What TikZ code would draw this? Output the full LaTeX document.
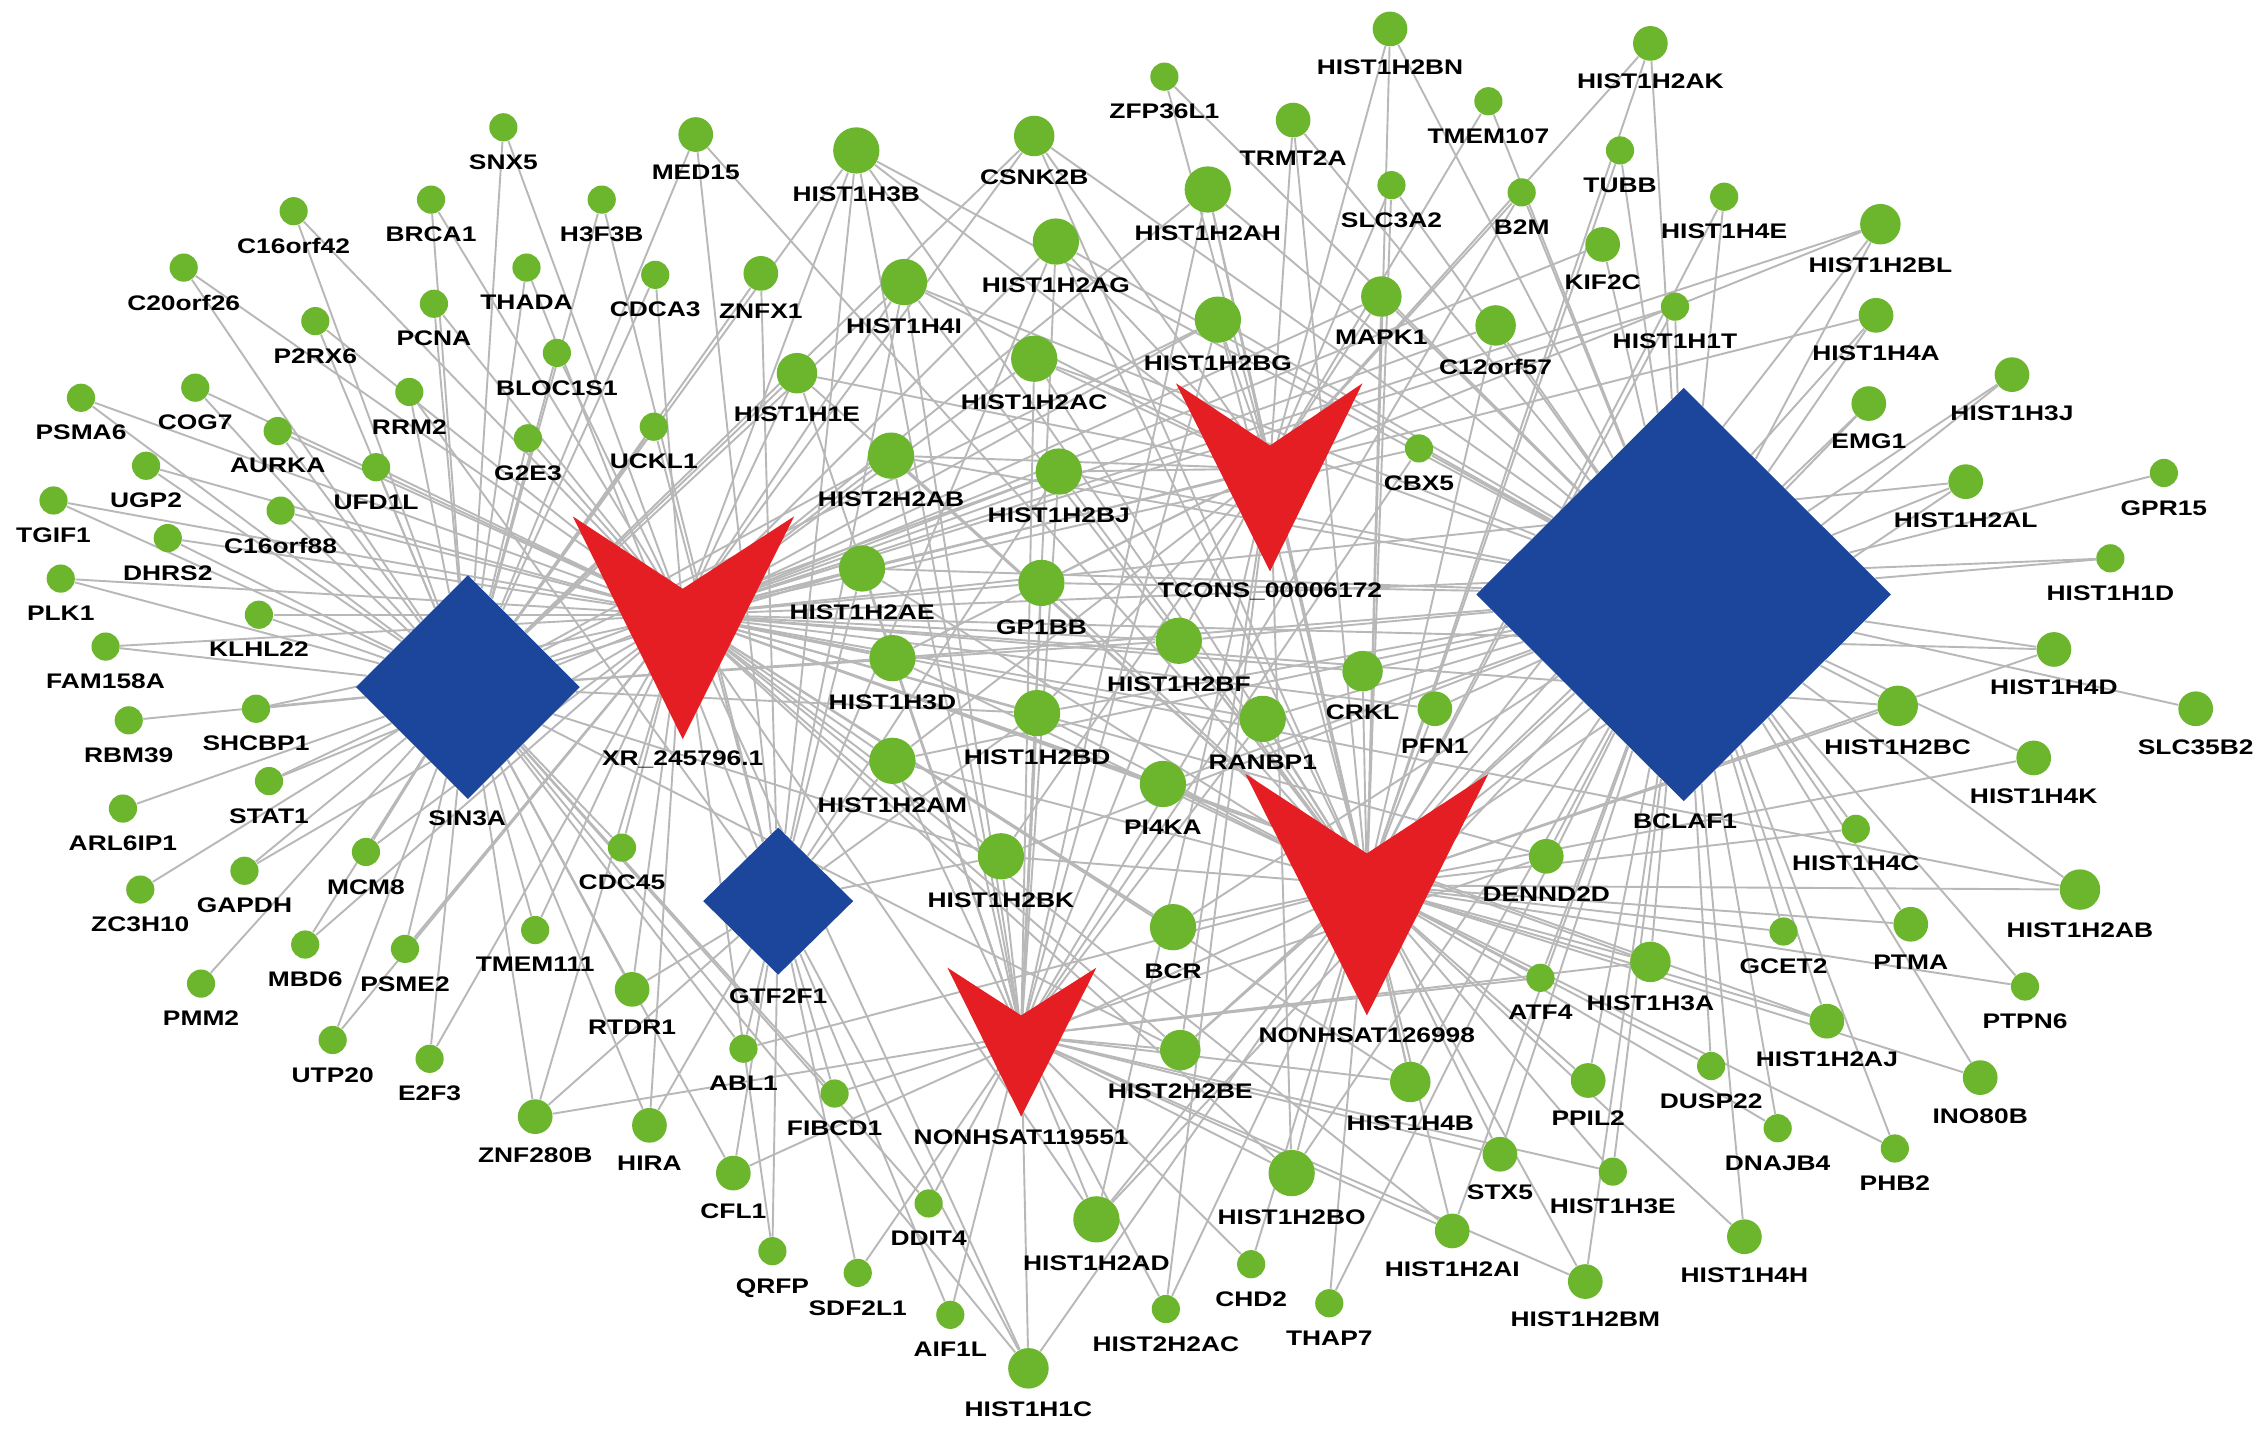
\documentclass[tikz,border=0pt]{standalone}
\usepackage{fontspec}
\newfontfamily\labfont{Liberation Sans}[FakeStretch=1.25]
\usetikzlibrary{shapes.geometric}
\pgfdeclarelayer{bg}
\pgfdeclarelayer{edges}
\pgfsetlayers{bg,edges,main}
\definecolor{ngreen}{RGB}{108,182,46}
\definecolor{hblue}{RGB}{28,70,155}
\definecolor{vred}{RGB}{228,30,34}
\definecolor{egray}{RGB}{184,184,184}
\newcommand\gnode[4]{%
  \node[gn,#4] (#1) at (#2,#3) {};
  \node[lab,anchor=north] (l#1) at ([yshift=-0.17cm]#1.south) {#1};}
\begin{document}
\begin{tikzpicture}[x=0.02cm,y=-0.02cm,
  gn/.style={circle,fill=ngreen,inner sep=0pt,minimum size=0.39cm},
  szs/.style={minimum size=0.39cm},
  szm/.style={minimum size=0.48cm},
  szl/.style={minimum size=0.56cm},
  szx/.style={minimum size=0.64cm},
  lab/.style={inner sep=0pt,text=black,font=\labfont\bfseries\fontsize{8.3}{9}\selectfont},
  edge/.style={draw=egray,line width=0.75pt},
  vhub/.style={fill=vred},
  dhub/.style={diamond,fill=hblue,inner sep=0pt,aspect=1}]
\useasboundingbox (0,0) rectangle (1568,991);
\begin{pgfonlayer}{bg}
\fill[white] (0,0) rectangle (1568,991);
\end{pgfonlayer}

% ---- hubs ----
\node[dhub,minimum width=3.1cm,minimum height=3.1cm] (S) at (323.5,475) {};
\node[dhub,minimum width=2.08cm,minimum height=2.04cm] (G) at (538,623) {};
\node[dhub,minimum width=5.74cm,minimum height=5.72cm] (B) at (1164,411) {};
\fill[vhub] (396,357) -- (472,407) -- (549,357) -- (472,511) -- cycle;
\fill[vhub] (813,265) -- (878,308) -- (942,265) -- (878,395) -- cycle;
\fill[vhub] (861,535) -- (945,590) -- (1029,535) -- (945,702) -- cycle;
\fill[vhub] (655,669) -- (706,702) -- (758,669) -- (706,772) -- cycle;
\coordinate (X) at (472,425);
\coordinate (T) at (878,324);
\coordinate (N6) at (945,612);
\coordinate (N5) at (706,716);
\node[lab] (lS) at (323,566) {SIN3A};
\node[lab] (lX) at (472,525) {XR\_245796.1};
\node[lab] (lT) at (878,409) {TCONS\_00006172};
\node[lab] (lB) at (1165,568) {BCLAF1};
\node[lab] (lG) at (538,689) {GTF2F1};
\node[lab] (lN6) at (945,716) {NONHSAT126998};
\node[lab] (lN5) at (706,786) {NONHSAT119551};

% ---- green nodes ----
\gnode{SNX5}{348}{88}{szs}
\gnode{MED15}{481}{93}{szm}
\gnode{HIST1H3B}{592}{104}{szx}
\gnode{CSNK2B}{715}{94}{szl}
\gnode{ZFP36L1}{805}{53}{szs}
\gnode{TRMT2A}{894}{83}{szm}
\gnode{HIST1H2BN}{961}{20}{szm}
\gnode{TMEM107}{1029}{70}{szs}
\gnode{HIST1H2AK}{1141}{30}{szm}
\gnode{C16orf42}{203}{146}{szs}
\gnode{BRCA1}{298}{138}{szs}
\gnode{H3F3B}{416}{138}{szs}
\gnode{HIST1H2AH}{835}{131}{szx}
\gnode{SLC3A2}{962}{128}{szs}
\gnode{B2M}{1052}{133}{szs}
\gnode{TUBB}{1120}{104}{szs}
\gnode{HIST1H4E}{1192}{136}{szs}
\gnode{HIST1H2BL}{1300}{155}{szl}
\gnode{C20orf26}{127}{185}{szs}
\gnode{THADA}{364}{185}{szs}
\gnode{CDCA3}{453}{190}{szs}
\gnode{ZNFX1}{526}{189}{szm}
\gnode{HIST1H2AG}{730}{167}{szx}
\gnode{KIF2C}{1108}{169}{szm}
\gnode{HIST1H4I}{625}{195}{szx}
\gnode{P2RX6}{218}{222}{szs}
\gnode{PCNA}{300}{210}{szs}
\gnode{BLOC1S1}{385}{244}{szs}
\gnode{HIST1H2BG}{842}{221}{szx}
\gnode{MAPK1}{955}{205}{szl}
\gnode{C12orf57}{1034}{225}{szl}
\gnode{HIST1H1T}{1158}{212}{szs}
\gnode{HIST1H4A}{1297}{218}{szm}
\gnode{HIST1H1E}{551}{258}{szl}
\gnode{HIST1H2AC}{715}{248}{szx}
\gnode{PSMA6}{56}{275}{szs}
\gnode{COG7}{135}{268}{szs}
\gnode{RRM2}{283}{271}{szs}
\gnode{HIST1H3J}{1391}{259}{szm}
\gnode{EMG1}{1292}{279}{szm}
\gnode{AURKA}{192}{298}{szs}
\gnode{G2E3}{365}{303}{szs}
\gnode{UCKL1}{452}{295}{szs}
\gnode{UFD1L}{260}{323}{szs}
\gnode{UGP2}{101}{322}{szs}
\gnode{HIST2H2AB}{616}{315}{szx}
\gnode{HIST1H2BJ}{732}{326}{szx}
\gnode{CBX5}{981}{310}{szs}
\gnode{GPR15}{1496}{327}{szs}
\gnode{HIST1H2AL}{1359}{333}{szm}
\gnode{TGIF1}{37}{346}{szs}
\gnode{C16orf88}{194}{353}{szs}
\gnode{DHRS2}{116}{372}{szs}
\gnode{HIST1H2AE}{596}{393}{szx}
\gnode{GP1BB}{720}{403}{szx}
\gnode{HIST1H1D}{1459}{386}{szs}
\gnode{PLK1}{42}{400}{szs}
\gnode{KLHL22}{179}{425}{szs}
\gnode{HIST1H2BF}{815}{443}{szx}
\gnode{HIST1H4D}{1420}{449}{szm}
\gnode{FAM158A}{73}{447}{szs}
\gnode{HIST1H3D}{617}{455}{szx}
\gnode{CRKL}{942}{464}{szl}
\gnode{PFN1}{992}{490}{szm}
\gnode{SLC35B2}{1518}{490}{szm}
\gnode{RBM39}{89}{498}{szs}
\gnode{SHCBP1}{177}{490}{szs}
\gnode{HIST1H2BD}{717}{493}{szx}
\gnode{RANBP1}{873}{497}{szx}
\gnode{HIST1H2BC}{1312}{488}{szl}
\gnode{HIST1H2AM}{617}{526}{szx}
\gnode{HIST1H4K}{1406}{524}{szm}
\gnode{STAT1}{186}{540}{szs}
\gnode{PI4KA}{804}{542}{szx}
\gnode{ARL6IP1}{85}{559}{szs}
\gnode{HIST1H4C}{1283}{573}{szs}
\gnode{MCM8}{253}{589}{szs}
\gnode{CDC45}{430}{586}{szs}
\gnode{HIST1H2BK}{692}{592}{szx}
\gnode{DENND2D}{1069}{592}{szm}
\gnode{GAPDH}{169}{602}{szs}
\gnode{ZC3H10}{97}{615}{szs}
\gnode{HIST1H2AB}{1438}{615}{szl}
\gnode{TMEM111}{370}{643}{szs}
\gnode{BCR}{811}{641}{szx}
\gnode{GCET2}{1233}{644}{szs}
\gnode{PTMA}{1321}{639}{szm}
\gnode{MBD6}{211}{653}{szs}
\gnode{PSME2}{280}{656}{szs}
\gnode{HIST1H3A}{1141}{665}{szl}
\gnode{ATF4}{1065}{676}{szs}
\gnode{PMM2}{139}{680}{szs}
\gnode{RTDR1}{437}{684}{szm}
\gnode{PTPN6}{1400}{682}{szs}
\gnode{HIST1H2AJ}{1263}{706}{szm}
\gnode{ABL1}{514}{725}{szs}
\gnode{HIST2H2BE}{816}{726}{szl}
\gnode{UTP20}{230}{719}{szs}
\gnode{E2F3}{297}{732}{szs}
\gnode{DUSP22}{1183}{737}{szs}
\gnode{INO80B}{1369}{745}{szm}
\gnode{HIST1H4B}{975}{748}{szl}
\gnode{PPIL2}{1098}{747}{szm}
\gnode{FIBCD1}{577}{756}{szs}
\gnode{ZNF280B}{370}{772}{szm}
\gnode{HIRA}{449}{778}{szm}
\gnode{DNAJB4}{1229}{780}{szs}
\gnode{PHB2}{1310}{794}{szs}
\gnode{CFL1}{507}{811}{szm}
\gnode{STX5}{1037}{798}{szm}
\gnode{HIST1H3E}{1115}{810}{szs}
\gnode{HIST1H2BO}{893}{811}{szx}
\gnode{DDIT4}{642}{832}{szs}
\gnode{HIST1H2AD}{758}{843}{szx}
\gnode{HIST1H2AI}{1004}{851}{szm}
\gnode{HIST1H4H}{1206}{855}{szm}
\gnode{CHD2}{865}{874}{szs}
\gnode{QRFP}{534}{865}{szs}
\gnode{SDF2L1}{593}{880}{szs}
\gnode{HIST1H2BM}{1096}{886}{szm}
\gnode{THAP7}{919}{901}{szs}
\gnode{AIF1L}{657}{909}{szs}
\gnode{HIST2H2AC}{806}{905}{szs}
\gnode{HIST1H1C}{711}{946}{szl}

% ---- edges ----
\begin{pgfonlayer}{edges}
\foreach \n in {SNX5,MED15,C16orf42,BRCA1,H3F3B,C20orf26,THADA,CDCA3,ZNFX1,P2RX6,PCNA,BLOC1S1,PSMA6,COG7,RRM2,AURKA,G2E3,UCKL1,UFD1L,UGP2,TGIF1,C16orf88,DHRS2,PLK1,KLHL22,FAM158A,RBM39,SHCBP1,STAT1,ARL6IP1,MCM8,GAPDH,ZC3H10,CDC45,TMEM111,MBD6,PSME2,PMM2,RTDR1,UTP20,E2F3,ZNF280B,HIRA,ABL1,FIBCD1,CFL1,DDIT4,CSNK2B,HIST1H3B,HIST1H4I,HIST1H2BG,HIST1H1E,HIST2H2AB,HIST1H2BJ,HIST1H2AE,HIST1H2BF,HIST1H3D,HIST1H2BD,HIST1H2BK,HIST2H2BE,HIST1H1C}
  \draw[edge] (\n) -- (S);
\foreach \n in {SNX5,C16orf42,BRCA1,C20orf26,CDCA3,P2RX6,PCNA,BLOC1S1,PSMA6,COG7,AURKA,G2E3,UFD1L,UGP2,TGIF1,C16orf88,DHRS2,PLK1,KLHL22,FAM158A,SHCBP1,STAT1,MCM8,GAPDH,MBD6,PSME2,TMEM111,UTP20,E2F3,CDC45,RTDR1,ZNF280B,HIRA,QRFP,KIF2C,MAPK1,C12orf57,CBX5,CRKL,PFN1,RANBP1,PI4KA,BCR,DENND2D,HIST1H1D,CSNK2B,HIST1H3B,HIST1H2AH,HIST1H2BL,HIST1H2AG,HIST1H4I,HIST1H2BG,HIST1H1T,HIST1H4A,HIST1H1E,HIST1H2AC,HIST2H2AB,HIST1H2BJ,HIST1H2AL,HIST1H2AE,GP1BB,HIST1H2BF,HIST1H4D,HIST1H3D,HIST1H2BD,HIST1H2BC,HIST1H2AM,HIST1H2BK,HIST1H2AB,HIST1H3A,HIST1H2AJ,HIST2H2BE,HIST1H4B,HIST1H2BO,HIST1H2AD,HIST1H2AI,HIST1H1C}
  \draw[edge] (\n) -- (X);
\foreach \n in {MED15,H3F3B,THADA,ZNFX1,RRM2,UCKL1,RTDR1,ZNF280B,HIRA,ABL1,FIBCD1,CFL1,QRFP,SDF2L1,AIF1L,HIST1H1C,HIST1H4I,HIST1H2AE,HIST1H2AM,HIST1H2BK,HIST1H2BD,HIST1H2AG,HIST1H2BJ,HIST1H3B}
  \draw[edge] (\n) -- (G);
\foreach \n in {ZFP36L1,TRMT2A,TMEM107,SLC3A2,B2M,MAPK1,HIST1H2BN,HIST1H2AK,HIST1H2BL,HIST1H3B,HIST1H2AH,HIST1H2AG,HIST1H4I,HIST1H2BG,HIST1H1E,HIST1H2AC,HIST2H2AB,HIST1H2BJ,HIST1H2AE,GP1BB,HIST1H2BF,HIST1H3D,HIST1H2BD,HIST1H2AM,HIST1H2BK,HIST2H2BE,HIST1H4B,HIST1H2BO,HIST1H2AD,HIST2H2AC,CSNK2B}
  \draw[edge] (\n) -- (T);
\foreach \n in {MED15,TRMT2A,SLC3A2,TUBB,MAPK1,C12orf57,CRKL,PFN1,RANBP1,PI4KA,BCR,GCET2,PTMA,ATF4,PPIL2,DUSP22,DNAJB4,PHB2,INO80B,PTPN6,STX5,CHD2,THAP7,ABL1,CFL1,CSNK2B,HIST1H3B,HIST1H2BN,HIST1H2AK,HIST1H2AH,HIST1H4E,HIST1H2BL,HIST1H2AG,HIST1H4I,HIST1H2BG,HIST1H1T,HIST1H4A,HIST1H1E,HIST1H2AC,HIST1H3J,EMG1,HIST2H2AB,HIST1H2BJ,HIST1H2AL,HIST1H2AE,GP1BB,HIST1H2BF,HIST1H4D,HIST1H3D,HIST1H2BD,HIST1H2BC,HIST1H2AM,HIST1H4K,HIST1H4C,HIST1H2BK,HIST1H2AB,HIST1H3A,HIST1H2AJ,HIST2H2BE,HIST1H4B,HIST1H3E,HIST1H2BO,HIST1H2AD,HIST1H2AI,HIST1H4H,HIST1H2BM,HIST2H2AC,HIST1H1C}
  \draw[edge] (\n) -- (N6);
\foreach \n in {B2M,CBX5,RANBP1,DENND2D,ATF4,STX5,CHD2,ZNF280B,FIBCD1,SDF2L1,DDIT4,AIF1L,HIST1H3B,HIST1H2AH,HIST1H2AG,HIST1H4I,HIST1H2BG,HIST1H1E,HIST1H2AC,HIST2H2AB,HIST1H2BJ,HIST1H2AE,GP1BB,HIST1H2BF,HIST1H3D,HIST1H2BD,HIST1H2AM,HIST1H2BK,HIST1H3A,HIST2H2BE,HIST1H4B,HIST1H3E,HIST1H2BO,HIST1H2AD,HIST1H2AI,HIST1H2BM,HIST2H2AC,HIST1H1C}
  \draw[edge] (\n) -- (N5);
\foreach \n in {ZFP36L1,TRMT2A,TMEM107,SLC3A2,B2M,TUBB,KIF2C,MAPK1,C12orf57,CBX5,CRKL,PFN1,RANBP1,PI4KA,BCR,DENND2D,GCET2,PTMA,ATF4,PPIL2,DUSP22,DNAJB4,PHB2,INO80B,PTPN6,STX5,THAP7,GPR15,SLC35B2,HIST1H1D,CSNK2B,HIST1H3B,HIST1H2BN,HIST1H2AK,HIST1H2AH,HIST1H4E,HIST1H2BL,HIST1H2AG,HIST1H4I,HIST1H2BG,HIST1H1T,HIST1H4A,HIST1H2AC,HIST1H3J,EMG1,HIST2H2AB,HIST1H2BJ,HIST1H2AL,HIST1H2AE,GP1BB,HIST1H2BF,HIST1H4D,HIST1H3D,HIST1H2BD,HIST1H2BC,HIST1H2AM,HIST1H4K,HIST1H4C,HIST1H2BK,HIST1H2AB,HIST1H3A,HIST1H2AJ,HIST2H2BE,HIST1H4B,HIST1H3E,HIST1H2BO,HIST1H2AD,HIST1H2AI,HIST1H4H,HIST1H2BM}
  \draw[edge] (\n) -- (B);
\end{pgfonlayer}
\end{tikzpicture}
\end{document}
